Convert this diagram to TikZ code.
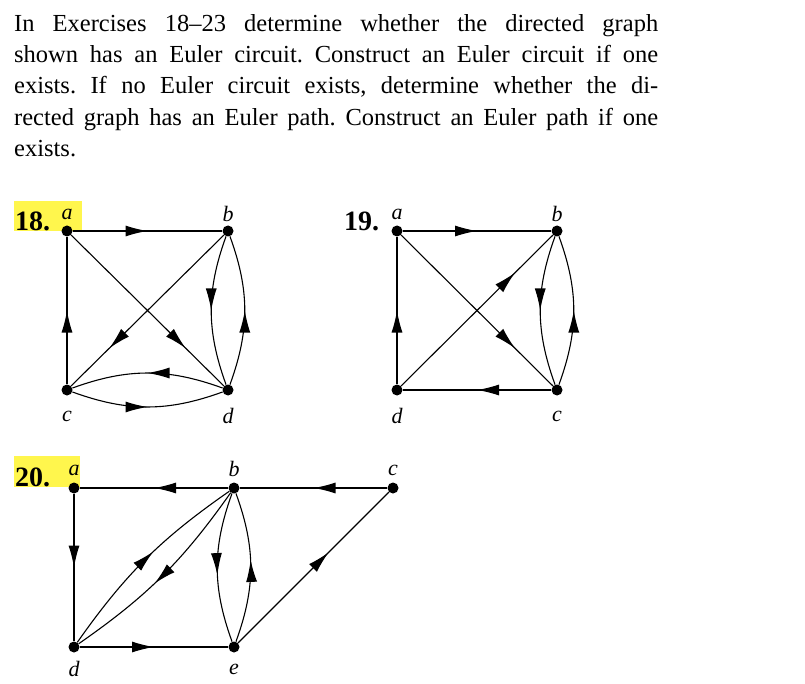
\documentclass[tikz,border=0pt]{standalone}
\usepackage{fontspec}
\setmainfont{Liberation Serif}
\usetikzlibrary{decorations.markings,arrows.meta}
\frenchspacing
\begin{document}
\begin{tikzpicture}[x=1pt,y=-1pt,
  vtx/.style={circle,fill=black,inner sep=0pt,minimum size=11pt},
  lbl/.style={font=\fontsize{22}{22}\selectfont\itshape,inner sep=0pt},
  num/.style={font=\fontsize{28}{28}\selectfont\bfseries,inner sep=1pt,anchor=south west},
  edge/.style={line width=1.1pt,postaction={decorate},decoration={markings,mark=at position #1 with {\arrow{Latex[length=22pt,width=11pt]}}}},
  edge/.default=0.5]
\useasboundingbox (0,0) rectangle (805,684);
\node[anchor=north west,inner sep=0pt,text width=644pt,align=justify,font=\fontsize{24.5}{31.3}\selectfont] (txt) at (14,14)
{In Exercises 18--23 determine whether the directed graph\linebreak shown has an Euler circuit. Construct an Euler circuit if one\linebreak exists. If no Euler circuit exists, determine whether the di-\linebreak rected graph has an Euler path. Construct an Euler path if one\linebreak exists.};
% 18
\fill[yellow!70] (14,201) rectangle (82,231);
\node[num] (n18) at (14,232) {18.};
\node[vtx] (a1) at (67,231) {}; \node[vtx] (b1) at (228,231) {};
\node[vtx] (c1) at (67,390) {}; \node[vtx] (d1) at (228,390) {};
\node[lbl] at (67,214) {a}; \node[lbl] at (228,214) {b};
\node[lbl] at (67,416) {c}; \node[lbl] at (228,416) {d};
\draw[edge] (a1) -- (b1);
\draw[edge] (c1) -- (a1);
\draw[edge=0.75] (a1) -- (d1);
\draw[edge=0.75] (b1) -- (c1);
\draw[edge] (b1) to[bend right=20] (d1);
\draw[edge] (d1) to[bend right=20] (b1);
\draw[edge] (d1) to[bend right=20] (c1);
\draw[edge] (c1) to[bend right=20] (d1);
% 19
\node[num] (n19) at (343,232) {19.};
\node[vtx] (a2) at (397,231) {}; \node[vtx] (b2) at (557,231) {};
\node[vtx] (d2) at (397,390) {}; \node[vtx] (c2) at (557,390) {};
\node[lbl] at (397,214) {a}; \node[lbl] at (557,214) {b};
\node[lbl] at (397,416) {d}; \node[lbl] at (557,416) {c};
\draw[edge] (a2) -- (b2);
\draw[edge] (d2) -- (a2);
\draw[edge=0.75] (a2) -- (c2);
\draw[edge=0.75] (d2) -- (b2);
\draw[edge] (b2) to[bend right=20] (c2);
\draw[edge] (c2) to[bend right=20] (b2);
\draw[edge] (c2) -- (d2);
% 20
\fill[yellow!70] (14,456) rectangle (80,487);
\node[num] (n20) at (14,488) {20.};
\node[vtx] (a3) at (74,488) {}; \node[vtx] (b3) at (234,488) {};
\node[vtx] (c3) at (393,488) {};
\node[vtx] (d3) at (74,647) {}; \node[vtx] (e3) at (234,647) {};
\node[lbl] at (74,470) {a}; \node[lbl] at (234,469) {b}; \node[lbl] at (393,470) {c};
\node[lbl] at (74,669) {d}; \node[lbl] at (234,669) {e};
\draw[edge] (b3) -- (a3);
\draw[edge] (c3) -- (b3);
\draw[edge] (a3) -- (d3);
\draw[edge=0.55] (d3) to[bend left=10] (b3);
\draw[edge=0.55] (b3) to[bend left=10] (d3);
\draw[edge=0.55] (b3) to[bend right=20] (e3);
\draw[edge=0.55] (e3) to[bend right=20] (b3);
\draw[edge] (d3) -- (e3);
\draw[edge=0.6] (e3) -- (c3);
\end{tikzpicture}
\end{document}
